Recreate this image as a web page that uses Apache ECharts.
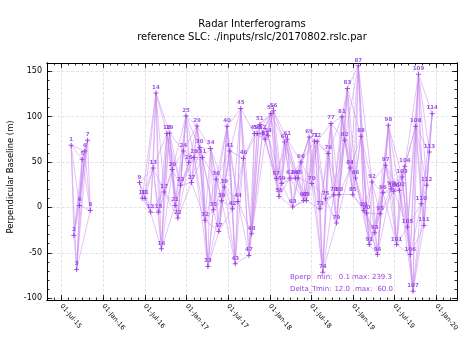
<!DOCTYPE html>
<html><head><meta charset="utf-8">
<script src="https://cdn.jsdelivr.net/npm/echarts@6/dist/echarts.min.js"></script>
<style>html,body{margin:0;padding:0;background:#fff}#c{width:474px;height:355px}</style>
</head><body><div id="c"></div>
<script>
// Temporal baseline of each acquisition relative to reference SLC 2017-08-02 (days)
const refDate = '2017-08-02';
const dayOffsets = [
  -720,-708,-696,-684,-672,-660,-648,-636,
  -420,-408,-396,-372,-360,-348,-336,-324,-312,-300,-288,-276,-264,-252,-240,-228,-216,-204,-192,-180,-168,-156,-144,-132,-120,-108,-96,-84,-72,-60,-48,-36,-24,-12,0,
  12,24,36,
  60,72,84,96,108,120,132,144,156,168,180,192,204,216,228,240,252,264,276,288,300,312,324,336,348,360,372,384,396,408,420,432,444,456,468,480,492,504,516,528,540,552,564,576,588,600,612,624,636,648,660,672,684,696,708,720,732,744,756,768,780,792,804,816,828,840,852,864
];
// Perpendicular baseline (m)
const bperp = [
  68.4,-30.9,-68.4,2.2,53,62,74,-3.3,
  27.3,10,10,-5.2,43.4,126,-5.2,-45.6,16.9,81.3,82,41.6,2.2,-11.8,24.3,62.1,100.8,49.3,27.3,54.9,89.7,65.9,54.9,-14.3,-65,64.8,-2.5,30.9,-26.5,7.4,22.4,89.4,62.1,-1.4,-62,
  6.6,109,53.8,
  -53,-29,81.3,81.3,91.3,82,75,79,103.4,106.3,31.7,12.1,26.2,72,75,32.3,0.3,32.3,32.3,50,7.7,7.7,77.6,26.2,72.8,72.8,-1.4,-71.4,9.6,59.3,92.4,14,-17.3,14,99.7,74,131,43.4,14,32.3,156,78.4,-3.3,-6.3,-41,28,-28,-52,-7,16.2,46.4,90.5,20.6,17.7,-41,18.8,33.4,45.3,-21.7,-52,-92.4,89.4,146.5,4,-19.9,24.3,61,103.4
];
const xTickDates = ['2015-07-01','2016-01-01','2016-07-01','2017-01-01','2017-07-01','2018-01-01','2018-07-01','2019-01-01','2019-07-01','2020-01-01'];
const xTickLabels = ['01-Jul-15','01-Jan-16','01-Jul-16','01-Jan-17','01-Jul-17','01-Jan-18','01-Jul-18','01-Jan-19','01-Jul-19','01-Jan-20'];
const yTicks = [-100,-50,0,50,100,150];
const deltaTMax = 60;
const statsBperp = ['Bperp','min:','0.1','max:','239.3'];
const statsDeltaT = ['Delta_T','min:','12.0','max:','60.0'];

const DAY = 86400000;
function parseDate(s){const p=s.split('-').map(Number);return Date.UTC(p[0],p[1]-1,p[2]);}
// x values expressed in days since 1970-01-01 (UTC)
const refDay = parseDate(refDate)/DAY;
const points = dayOffsets.map((d,i)=>[refDay + d, bperp[i]]);
const edges = [];
for (let i=0;i<points.length;i++) for (let j=i+1;j<points.length;j++) {
  if (Math.abs(dayOffsets[j]-dayOffsets[i]) <= deltaTMax) edges.push({coords:[points[i], points[j]]});
}
const xMin = Date.UTC(2015,3,29)/DAY, xMax = Date.UTC(2020,3,1)/DAY;
const majorX = xTickDates.map(s=>parseDate(s)/DAY);
const minorX = [];
for (let y=2015;y<=2020;y++) for (let m=0;m<12;m++){const t=Date.UTC(y,m,1)/DAY; if(t>=xMin&&t<=xMax) minorX.push(t);}
const yMin=-102, yMax=159;
const minorY=[]; for(let v=-100; v<=150; v+=10) minorY.push(v);

const FONT='DejaVu Sans';
function xAx(pos, ticks, len, labels, split){
  return {type:'value', position:pos, min:xMin, max:xMax, scale:true,
    axisLine:{show:true,onZero:false,lineStyle:{color:'#000',width:1}},
    axisTick:{show:true,inside:true,length:len,customValues:ticks,lineStyle:{color:'#000',width:0.8}},
    axisLabel:{show:labels,customValues:ticks,rotate:-50,fontSize:6.5,color:'#000',fontFamily:FONT,margin:5,
      formatter:function(v){const k=majorX.findIndex(t=>Math.abs(t-v)<0.5);return k>=0?xTickLabels[k]:'';}},
    splitLine:{show:split,lineStyle:{color:'#dcdcdc',type:'dashed',width:0.8}},
    minorTick:{show:false}};
}
function yAx(pos, ticks, len, labels, split){
  return {type:'value', position:pos, min:yMin, max:yMax,
    axisLine:{show:true,onZero:false,lineStyle:{color:'#000',width:1}},
    axisTick:{show:true,inside:true,length:len,customValues:ticks,lineStyle:{color:'#000',width:0.8}},
    axisLabel:{show:labels,customValues:ticks,fontSize:8,color:'#000',fontFamily:FONT,margin:5},
    splitLine:{show:split,lineStyle:{color:'#dcdcdc',type:'dashed',width:0.8}}};
}
const chart = echarts.init(document.getElementById('c'), null, {renderer:'canvas'});
const graphics = [
  {type:'text',x:252,y:24,style:{text:'Radar Interferograms',font:'10px '+FONT,fill:'#000',align:'center',verticalAlign:'middle'}},
  {type:'text',x:252,y:37,style:{text:'reference SLC: ./inputs/rslc/20170802.rslc.par',font:'10px '+FONT,fill:'#000',align:'center',verticalAlign:'middle'}},
  {type:'text',x:11,y:177,rotation:Math.PI/2,style:{text:'Perpendicular Baseline (m)',font:'8.4px '+FONT,fill:'#000',align:'center',verticalAlign:'middle'}}
];
const sx1=[290,317,350,352,392], sx2=[290,316,350,355,393], al=['left','left','right','left','right'];
statsBperp.forEach((s,k)=>graphics.push({type:'text',x:sx1[k],y:277,style:{text:s,font:'7px '+FONT,fill:'#9a44dd',align:al[k],verticalAlign:'middle'}}));
statsDeltaT.forEach((s,k)=>graphics.push({type:'text',x:sx2[k],y:289,style:{text:s,font:'7px '+FONT,fill:'#9a44dd',align:al[k],verticalAlign:'middle'}}));

chart.setOption({
  animation:false,
  backgroundColor:'#fff',
  grid:{left:47,right:17,top:63,bottom:55,containLabel:false},
  xAxis:[xAx('bottom',majorX,5,true,true), xAx('bottom',minorX,2.5,false,false), xAx('top',majorX,5,false,false), xAx('top',minorX,2.5,false,false)],
  yAxis:[yAx('left',yTicks,5,true,true), yAx('left',minorY,2.5,false,false), yAx('right',yTicks,5,false,false), yAx('right',minorY,2.5,false,false)],
  graphic:graphics,
  series:[
    {type:'lines',coordinateSystem:'cartesian2d',xAxisIndex:0,yAxisIndex:0,data:edges,silent:true,z:1,
      lineStyle:{color:'#c98bf0',width:0.7,opacity:0.75}},
    {type:'scatter',xAxisIndex:0,yAxisIndex:0,data:points,z:3,
      symbol:'path://M4,0H6V4H10V6H6V10H4V6H0V4H4Z',symbolSize:5,
      itemStyle:{color:'#8a2be2'},
      label:{show:true,position:'top',distance:0,fontSize:5.5,fontWeight:'bold',color:'#8a2be2',fontFamily:FONT,
        formatter:function(p){return String(p.dataIndex+1);}}}
  ]
});
</script></body></html>
